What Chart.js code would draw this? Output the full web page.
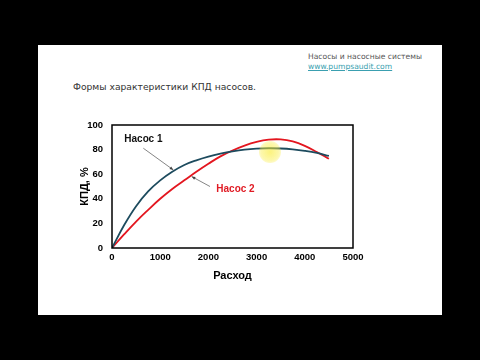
<!DOCTYPE html>
<html>
<head>
<meta charset="utf-8">
<script src="https://cdn.jsdelivr.net/npm/chart.js@4.4.1/dist/chart.umd.min.js"></script>
<style>
  html, body { margin: 0; padding: 0; background: #000; }
  body { width: 480px; height: 360px; position: relative; overflow: hidden; }
  .slide { position: absolute; left: 38px; top: 45px; width: 404px; height: 270px; background: #fff; }
  .title { position: absolute; left: 73px; top: 81px; font: 9.2px "DejaVu Sans", sans-serif; color: #333; white-space: nowrap; }
  .brand { position: absolute; left: 308px; top: 52px; font: 7.6px "DejaVu Sans", sans-serif; color: #555; line-height: 9.5px; white-space: nowrap; }
  .brand a { color: #3a9fb0; text-decoration: underline; }
  .cursor { position: absolute; left: 259px; top: 141px; width: 22px; height: 22px; border-radius: 50%;
    background: radial-gradient(circle, rgba(250,235,40,0.6) 0%, rgba(250,238,70,0.45) 55%, rgba(255,245,120,0) 100%); }
  canvas { position: absolute; left: 0; top: 0; }
</style>
</head>
<body>
<div class="slide"></div>
<div class="brand">Насосы и насосные системы<br><a>www.pumpsaudit.com</a></div>
<div class="title">Формы характеристики КПД насосов.</div>
<canvas id="myChart" width="480" height="360"></canvas>
<div class="cursor"></div>
<script>
// Расход (flow) and efficiency values
const flow = [0, 250, 500, 750, 1000, 1250, 1500, 1750, 2000, 2250, 2500, 2750, 3000, 3250, 3500, 3750, 4000, 4250, 4500];
const pump1 = [0, 18.5, 34, 46, 55, 62, 67.5, 71.3, 74.3, 76.7, 78.6, 80, 80.8, 81.1, 80.9, 80.2, 79, 77.3, 74.8];
const pump2 = [0, 11, 21.5, 31, 40, 48, 55, 62, 68.5, 74.5, 79.3, 83.3, 86.3, 88.1, 88.3, 86.6, 83, 78, 72.5];
const yTicks = [0, 20, 40, 60, 80, 100];
const xTicks = [0, 1000, 2000, 3000, 4000, 5000];

// callout labels and their arrows, in data units
const labels = [
  { text: 'Насос 1', x: 255, y: 88.6, color: '#111', from: [650, 81.1], to: [1272, 63.5] },
  { text: 'Насос 2', x: 2164, y: 48.1, color: '#e01b24', from: [2033, 50], to: [1653, 58.1] },
];

const toPoints = (ys) => ys.map((y, i) => ({ x: flow[i], y }));

const frame = {
  id: 'frame',
  afterDraw(chart) {
    const { ctx, chartArea: a } = chart;
    ctx.save();
    ctx.strokeStyle = '#000';
    ctx.lineWidth = 1.5;
    ctx.strokeRect(a.left, a.top, a.right - a.left, a.bottom - a.top);
    ctx.restore();
  },
};

const callouts = {
  id: 'callouts',
  afterDatasetsDraw(chart) {
    const { ctx, scales: { x, y } } = chart;
    ctx.save();
    labels.forEach((l) => {
      const x0 = x.getPixelForValue(l.from[0]), y0 = y.getPixelForValue(l.from[1]);
      const x1 = x.getPixelForValue(l.to[0]), y1 = y.getPixelForValue(l.to[1]);
      ctx.strokeStyle = '#666';
      ctx.fillStyle = '#444';
      ctx.lineWidth = 0.8;
      ctx.beginPath();
      ctx.moveTo(x0, y0);
      ctx.lineTo(x1, y1);
      ctx.stroke();
      const ang = Math.atan2(y1 - y0, x1 - x0);
      ctx.beginPath();
      ctx.moveTo(x1, y1);
      ctx.lineTo(x1 - 4 * Math.cos(ang - 0.4), y1 - 4 * Math.sin(ang - 0.4));
      ctx.lineTo(x1 - 4 * Math.cos(ang + 0.4), y1 - 4 * Math.sin(ang + 0.4));
      ctx.closePath();
      ctx.fill();
      ctx.fillStyle = l.color;
      ctx.font = 'bold 10px "Liberation Sans", Arial, sans-serif';
      ctx.textBaseline = 'middle';
      ctx.textAlign = 'left';
      ctx.fillText(l.text, x.getPixelForValue(l.x), y.getPixelForValue(l.y));
    });
    ctx.restore();
  },
};

const tickFont = { family: '"Liberation Sans", Arial, sans-serif', size: 9.5, weight: 'bold' };
const titleFont = { family: '"Liberation Sans", Arial, sans-serif', size: 11, weight: 'bold' };

new Chart(document.getElementById('myChart'), {
  type: 'line',
  data: {
    datasets: [
      { label: 'Насос 1', data: toPoints(pump1), borderColor: '#1d4b5e', borderWidth: 1.8, pointRadius: 0, tension: 0.4 },
      { label: 'Насос 2', data: toPoints(pump2), borderColor: '#e3161f', borderWidth: 1.8, pointRadius: 0, tension: 0.4 },
    ],
  },
  options: {
    responsive: false,
    animation: false,
    layout: { padding: { left: 78, right: 127, top: 125, bottom: 77 } },
    plugins: { legend: { display: false }, tooltip: { enabled: false } },
    scales: {
      x: {
        type: 'linear', min: 0, max: 5000,
        afterBuildTicks: (s) => { s.ticks = xTicks.map((v) => ({ value: v })); },
        afterFit: (s) => { s.height = 35; },
        grid: { display: false, drawTicks: false },
        border: { display: false },
        ticks: { color: '#000', font: tickFont, padding: 4, maxRotation: 0, callback: (v) => String(v) },
        title: { display: true, text: 'Расход', color: '#000', padding: 0, font: titleFont },
      },
      y: {
        min: 0, max: 100,
        afterBuildTicks: (s) => { s.ticks = yTicks.map((v) => ({ value: v })); },
        afterFit: (s) => { s.width = 34; },
        grid: { display: false, drawTicks: false },
        border: { display: false },
        ticks: { color: '#000', font: tickFont, padding: 9, callback: (v) => String(v) },
        title: { display: true, text: 'КПД, %', color: '#000', padding: 0, font: titleFont },
      },
    },
  },
  plugins: [frame, callouts],
});
</script>
</body>
</html>
